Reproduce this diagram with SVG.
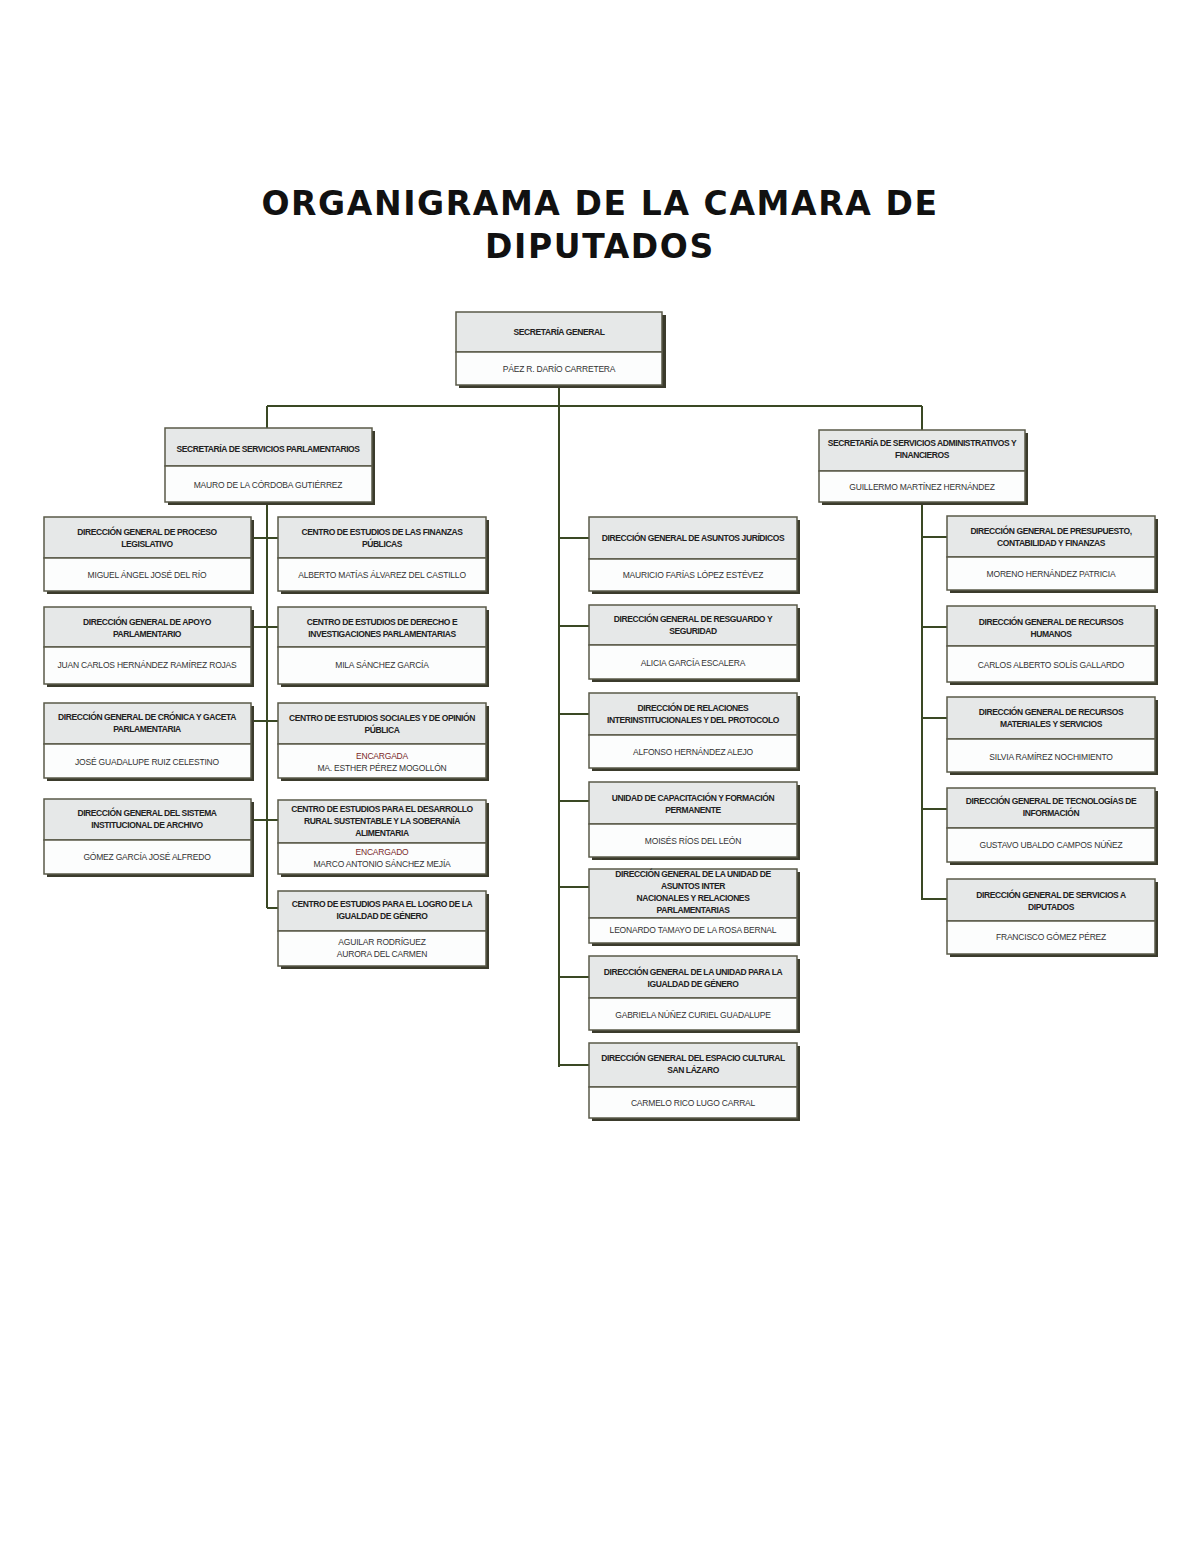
<svg xmlns="http://www.w3.org/2000/svg" width="1200" height="1553" viewBox="0 0 1200 1553">
<style>
.sh{fill:#3b3b2c}
.hd{fill:#e6e8e8;stroke:#5a5a48;stroke-width:1.5}
.bd{fill:#fcfdfd;stroke:#5a5a48;stroke-width:1.5}
.t{font-family:"Liberation Sans",Arial,sans-serif;font-size:8.5px;font-weight:bold;fill:#222;text-anchor:middle;letter-spacing:-0.4px}
.n{font-family:"Liberation Sans",Arial,sans-serif;font-size:8.5px;fill:#333;text-anchor:middle;letter-spacing:-0.2px}
.r{fill:#7a2a2a}
.title{font-family:"DejaVu Sans",sans-serif;font-size:33px;font-weight:bold;fill:#111;text-anchor:middle;letter-spacing:1.6px}
.c{stroke:#3a4824;stroke-width:2;fill:none}
</style>
<text class="title" x="600" y="215">ORGANIGRAMA DE LA CAMARA DE</text>
<text class="title" x="600" y="258">DIPUTADOS</text>
<g id="connectors" class="c">
<path d="M559 385V1067M267 406H922M267 406V428M922 406V430"/>
<path d="M267 502V908M251 538H278M251 627H278M251 721H278M251 820H278M267 908H278"/>
<path d="M559 538H589M559 626H589M559 714H589M559 801H589M559 887H589M559 977H589M559 1065H589"/>
<path d="M922 502V900M922 537H947M922 627H947M922 718H947M922 809H947M922 899H947"/>
</g>
<g id="sg"><rect class="sh" x="459" y="315" width="207" height="73"/><rect class="hd" x="456" y="312" width="206" height="40"/><rect class="bd" x="456" y="352" width="206" height="33"/><text class="t" x="559" y="335">SECRETARÍA GENERAL</text><text class="n" x="559" y="372">PÁEZ R. DARÍO CARRETERA</text></g>
<g id="ssp"><rect class="sh" x="168" y="431" width="207" height="74"/><rect class="hd" x="165" y="428" width="207" height="38"/><rect class="bd" x="165" y="466" width="207" height="36"/><text class="t" x="268" y="452">SECRETARÍA DE SERVICIOS PARLAMENTARIOS</text><text class="n" x="268" y="488">MAURO DE LA CÓRDOBA GUTIÉRREZ</text></g>
<g id="ssaf"><rect class="sh" x="822" y="433" width="206" height="72"/><rect class="hd" x="819" y="430" width="206" height="41"/><rect class="bd" x="819" y="471" width="206" height="31"/><text class="t" x="922" y="446">SECRETARÍA DE SERVICIOS ADMINISTRATIVOS Y</text><text class="t" x="922" y="458">FINANCIEROS</text><text class="n" x="922" y="490">GUILLERMO MARTÍNEZ HERNÁNDEZ</text></g>

<g id="l1"><rect class="sh" x="47" y="520" width="207" height="74"/><rect class="hd" x="44" y="517" width="207" height="41"/><rect class="bd" x="44" y="558" width="207" height="33"/><text class="t" x="147" y="535">DIRECCIÓN GENERAL DE PROCESO</text><text class="t" x="147" y="547">LEGISLATIVO</text><text class="n" x="147" y="578">MIGUEL ÁNGEL JOSÉ DEL RÍO</text></g>
<g id="l2"><rect class="sh" x="47" y="610" width="207" height="77"/><rect class="hd" x="44" y="607" width="207" height="40"/><rect class="bd" x="44" y="647" width="207" height="37"/><text class="t" x="147" y="625">DIRECCIÓN GENERAL DE APOYO</text><text class="t" x="147" y="637">PARLAMENTARIO</text><text class="n" x="147" y="668">JUAN CARLOS HERNÁNDEZ RAMÍREZ ROJAS</text></g>
<g id="l3"><rect class="sh" x="47" y="706" width="207" height="75"/><rect class="hd" x="44" y="703" width="207" height="41"/><rect class="bd" x="44" y="744" width="207" height="34"/><text class="t" x="147" y="720">DIRECCIÓN GENERAL DE CRÓNICA Y GACETA</text><text class="t" x="147" y="732">PARLAMENTARIA</text><text class="n" x="147" y="765">JOSÉ GUADALUPE RUIZ CELESTINO</text></g>
<g id="l4"><rect class="sh" x="47" y="802" width="207" height="75"/><rect class="hd" x="44" y="799" width="207" height="41"/><rect class="bd" x="44" y="840" width="207" height="34"/><text class="t" x="147" y="816">DIRECCIÓN GENERAL DEL SISTEMA</text><text class="t" x="147" y="828">INSTITUCIONAL DE ARCHIVO</text><text class="n" x="147" y="860">GÓMEZ GARCÍA JOSÉ ALFREDO</text></g>

<g id="c1"><rect class="sh" x="281" y="520" width="208" height="74"/><rect class="hd" x="278" y="517" width="208" height="41"/><rect class="bd" x="278" y="558" width="208" height="33"/><text class="t" x="382" y="535">CENTRO DE ESTUDIOS DE LAS FINANZAS</text><text class="t" x="382" y="547">PÚBLICAS</text><text class="n" x="382" y="578">ALBERTO MATÍAS ÁLVAREZ DEL CASTILLO</text></g>
<g id="c2"><rect class="sh" x="281" y="610" width="208" height="77"/><rect class="hd" x="278" y="607" width="208" height="40"/><rect class="bd" x="278" y="647" width="208" height="37"/><text class="t" x="382" y="625">CENTRO DE ESTUDIOS DE DERECHO E</text><text class="t" x="382" y="637">INVESTIGACIONES PARLAMENTARIAS</text><text class="n" x="382" y="668">MILA SÁNCHEZ GARCÍA</text></g>
<g id="c3"><rect class="sh" x="281" y="706" width="208" height="75"/><rect class="hd" x="278" y="703" width="208" height="41"/><rect class="bd" x="278" y="744" width="208" height="34"/><text class="t" x="382" y="721">CENTRO DE ESTUDIOS SOCIALES Y DE OPINIÓN</text><text class="t" x="382" y="733">PÚBLICA</text><text class="n r" x="382" y="759">ENCARGADA</text><text class="n" x="382" y="771">MA. ESTHER PÉREZ MOGOLLÓN</text></g>
<g id="c4"><rect class="sh" x="281" y="803" width="208" height="74"/><rect class="hd" x="278" y="800" width="208" height="43"/><rect class="bd" x="278" y="843" width="208" height="31"/><text class="t" x="382" y="812">CENTRO DE ESTUDIOS PARA EL DESARROLLO</text><text class="t" x="382" y="824">RURAL SUSTENTABLE Y LA SOBERANÍA</text><text class="t" x="382" y="836">ALIMENTARIA</text><text class="n r" x="382" y="855">ENCARGADO</text><text class="n" x="382" y="867">MARCO ANTONIO SÁNCHEZ MEJÍA</text></g>
<g id="c5"><rect class="sh" x="281" y="894" width="208" height="75"/><rect class="hd" x="278" y="891" width="208" height="40"/><rect class="bd" x="278" y="931" width="208" height="35"/><text class="t" x="382" y="907">CENTRO DE ESTUDIOS PARA EL LOGRO DE LA</text><text class="t" x="382" y="919">IGUALDAD DE GÉNERO</text><text class="n" x="382" y="945">AGUILAR RODRÍGUEZ</text><text class="n" x="382" y="957">AURORA DEL CARMEN</text></g>

<g id="m1"><rect class="sh" x="592" y="520" width="208" height="74"/><rect class="hd" x="589" y="517" width="208" height="42"/><rect class="bd" x="589" y="559" width="208" height="32"/><text class="t" x="693" y="541">DIRECCIÓN GENERAL DE ASUNTOS JURÍDICOS</text><text class="n" x="693" y="578">MAURICIO FARÍAS LÓPEZ ESTÉVEZ</text></g>
<g id="m2"><rect class="sh" x="592" y="608" width="208" height="74"/><rect class="hd" x="589" y="605" width="208" height="40"/><rect class="bd" x="589" y="645" width="208" height="34"/><text class="t" x="693" y="622">DIRECCIÓN GENERAL DE RESGUARDO Y</text><text class="t" x="693" y="634">SEGURIDAD</text><text class="n" x="693" y="666">ALICIA GARCÍA ESCALERA</text></g>
<g id="m3"><rect class="sh" x="592" y="696" width="208" height="75"/><rect class="hd" x="589" y="693" width="208" height="42"/><rect class="bd" x="589" y="735" width="208" height="33"/><text class="t" x="693" y="711">DIRECCIÓN DE RELACIONES</text><text class="t" x="693" y="723">INTERINSTITUCIONALES Y DEL PROTOCOLO</text><text class="n" x="693" y="755">ALFONSO HERNÁNDEZ ALEJO</text></g>
<g id="m4"><rect class="sh" x="592" y="785" width="208" height="75"/><rect class="hd" x="589" y="782" width="208" height="42"/><rect class="bd" x="589" y="824" width="208" height="33"/><text class="t" x="693" y="801">UNIDAD DE CAPACITACIÓN Y FORMACIÓN</text><text class="t" x="693" y="813">PERMANENTE</text><text class="n" x="693" y="844">MOISÉS RÍOS DEL LEÓN</text></g>
<g id="m5"><rect class="sh" x="592" y="872" width="208" height="74"/><rect class="hd" x="589" y="869" width="208" height="49"/><rect class="bd" x="589" y="918" width="208" height="25"/><text class="t" x="693" y="877">DIRECCIÓN GENERAL DE LA UNIDAD DE</text><text class="t" x="693" y="889">ASUNTOS INTER</text><text class="t" x="693" y="901">NACIONALES Y RELACIONES</text><text class="t" x="693" y="913">PARLAMENTARIAS</text><text class="n" x="693" y="933">LEONARDO TAMAYO DE LA ROSA BERNAL</text></g>
<g id="m6"><rect class="sh" x="592" y="959" width="208" height="74"/><rect class="hd" x="589" y="956" width="208" height="42"/><rect class="bd" x="589" y="998" width="208" height="32"/><text class="t" x="693" y="975">DIRECCIÓN GENERAL DE LA UNIDAD PARA LA</text><text class="t" x="693" y="987">IGUALDAD DE GÉNERO</text><text class="n" x="693" y="1018">GABRIELA NÚÑEZ CURIEL GUADALUPE</text></g>
<g id="m7"><rect class="sh" x="592" y="1046" width="208" height="75"/><rect class="hd" x="589" y="1043" width="208" height="44"/><rect class="bd" x="589" y="1087" width="208" height="31"/><text class="t" x="693" y="1061">DIRECCIÓN GENERAL DEL ESPACIO CULTURAL</text><text class="t" x="693" y="1073">SAN LÁZARO</text><text class="n" x="693" y="1106">CARMELO RICO LUGO CARRAL</text></g>

<g id="r1"><rect class="sh" x="950" y="519" width="208" height="74"/><rect class="hd" x="947" y="516" width="208" height="41"/><rect class="bd" x="947" y="557" width="208" height="33"/><text class="t" x="1051" y="534">DIRECCIÓN GENERAL DE PRESUPUESTO,</text><text class="t" x="1051" y="546">CONTABILIDAD Y FINANZAS</text><text class="n" x="1051" y="577">MORENO HERNÁNDEZ PATRICIA</text></g>
<g id="r2"><rect class="sh" x="950" y="609" width="208" height="76"/><rect class="hd" x="947" y="606" width="208" height="40"/><rect class="bd" x="947" y="646" width="208" height="36"/><text class="t" x="1051" y="625">DIRECCIÓN GENERAL DE RECURSOS</text><text class="t" x="1051" y="637">HUMANOS</text><text class="n" x="1051" y="668">CARLOS ALBERTO SOLÍS GALLARDO</text></g>
<g id="r3"><rect class="sh" x="950" y="700" width="208" height="75"/><rect class="hd" x="947" y="697" width="208" height="42"/><rect class="bd" x="947" y="739" width="208" height="33"/><text class="t" x="1051" y="715">DIRECCIÓN GENERAL DE RECURSOS</text><text class="t" x="1051" y="727">MATERIALES Y SERVICIOS</text><text class="n" x="1051" y="760">SILVIA RAMÍREZ NOCHIMIENTO</text></g>
<g id="r4"><rect class="sh" x="950" y="791" width="208" height="74"/><rect class="hd" x="947" y="788" width="208" height="40"/><rect class="bd" x="947" y="828" width="208" height="34"/><text class="t" x="1051" y="804">DIRECCIÓN GENERAL DE TECNOLOGÍAS DE</text><text class="t" x="1051" y="816">INFORMACIÓN</text><text class="n" x="1051" y="848">GUSTAVO UBALDO CAMPOS NÚÑEZ</text></g>
<g id="r5"><rect class="sh" x="950" y="882" width="208" height="75"/><rect class="hd" x="947" y="879" width="208" height="42"/><rect class="bd" x="947" y="921" width="208" height="33"/><text class="t" x="1051" y="898">DIRECCIÓN GENERAL DE SERVICIOS A</text><text class="t" x="1051" y="910">DIPUTADOS</text><text class="n" x="1051" y="940">FRANCISCO GÓMEZ PÉREZ</text></g>
</svg>
